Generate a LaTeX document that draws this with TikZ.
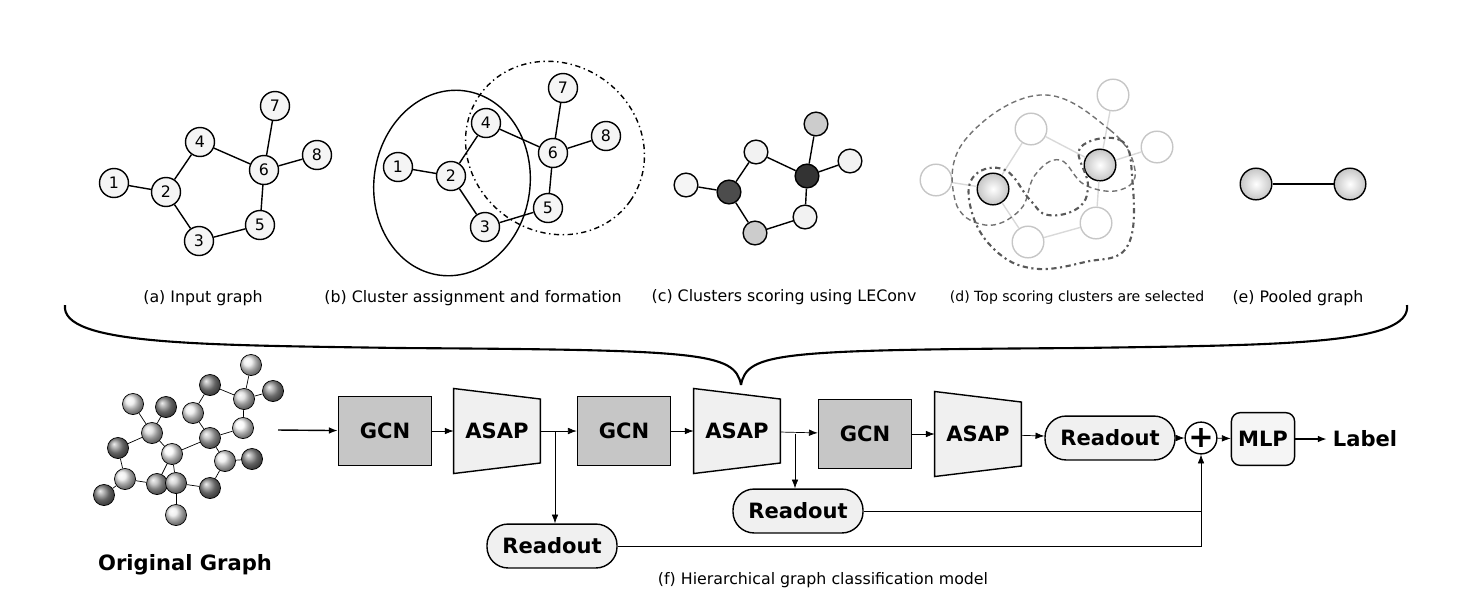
\documentclass[tikz,border=0pt]{standalone}
\usepackage{fontspec}
\setmainfont{DejaVu Sans}
\usetikzlibrary{arrows.meta,positioning,backgrounds}
\tikzset{
  vtx/.style={circle, draw, thick, minimum size=16.5pt, inner sep=0pt, font=\small, fill=gray!8},
  dot/.style={circle, draw, minimum size=12pt, inner sep=0pt, ball color=#1},
  sv/.style={circle, draw, thick, minimum size=13.5pt, inner sep=0pt, fill=#1},
  ghost/.style={circle, draw=gray!45, thick, minimum size=18pt, inner sep=0pt},
  pick/.style={circle, draw, thick, minimum size=18pt, inner sep=0pt, inner color=white, outer color=gray!45},
  blk/.style={draw, thick, fill=gray!45, minimum width=53pt, minimum height=39pt, font=\large\bfseries},
  asap/.style={minimum width=49pt, minimum height=48pt, inner sep=0pt, font=\large\bfseries},
  rdo/.style={draw, thick, rounded corners=12pt, fill=gray!12, minimum width=74pt, minimum height=25pt, font=\large\bfseries},
  caption/.style={font=\small},
  flow/.style={-{Latex[length=5pt]}},
}
\begin{document}
\begin{tikzpicture}[x=0.02cm, y=-0.02cm]
    \useasboundingbox (0,0) rectangle (1462,603);

    % (a) input graph
    \foreach \n/\x/\y in {1/114/183,2/166/192,3/199/241,4/200/142,5/260/225,6/264/170,7/275/106,8/317/155}
        \node[vtx] (a\n) at (\x,\y) {\n};
    \foreach \s/\t in {1/2,2/4,2/3,3/5,5/6,4/6,6/7,6/8}
        \draw[thick] (a\s) -- (a\t);
    \node[caption] (capa) at (203,298) {(a) Input graph};

    % (b) cluster assignment
    \draw[thick] (452,183) ellipse [x radius=78, y radius=93, rotate=-8];
    \draw[thick, dash dot] (555,148) ellipse [x radius=92, y radius=84, rotate=-35];
    \foreach \n/\x/\y in {1/398/167,2/451/176,3/485/227,4/486/123,5/548/208,6/553/153,7/563/88,8/606/136}
        \node[vtx] (b\n) at (\x,\y) {\n};
    \foreach \s/\t in {1/2,2/4,2/3,3/5,5/6,4/6,6/7,6/8}
        \draw[thick] (b\s) -- (b\t);
    \node[caption] (capb) at (473,298) {(b) Cluster assignment and formation};

    % (c) scoring
    \foreach \n/\x/\y/\c in {1/686/185/gray!8,2/729/192/black!70,3/756/152/gray!10,4/755/233/gray!40,5/807/176/black!80,6/816/124/gray!40,7/850/161/gray!10,8/805/217/gray!10}
        \node[sv=\c] (c\n) at (\x,\y) {};
    \foreach \s/\t in {1/2,2/3,2/4,4/8,8/5,3/5,5/6,5/7}
        \draw[thick] (c\s) -- (c\t);
    \node[caption] (capc) at (784,297) {(c) Clusters scoring using LEConv};

    % (d) top clusters
    \foreach \n/\x/\y in {1/1113/95,2/1031/129,3/1157/147,4/936/180,5/1028/242,6/1096/223}
        \node[ghost] (d\n) at (\x,\y) {};
    \node[pick] (dl) at (993,189) {};
    \node[pick] (dr) at (1100,165) {};
    \foreach \s/\t in {d2/dl,d2/dr,d1/dr,d3/dr,d4/dl,dl/d5,d5/d6,d6/dr}
        \draw[gray!30, thick] (\s) -- (\t);
    \draw[thick, densely dashed, gray!90!black] plot[smooth cycle, tension=0.7] coordinates
        {(1040,95) (1110,130) (1135,170) (1120,190) (1085,185) (1060,160) (1035,175) (1020,210) (985,225) (955,200) (965,140)};
    \draw[very thick, dash dot, gray!70!black] plot[smooth cycle, tension=0.7] coordinates
        {(1080,148) (1120,140) (1132,175) (1128,245) (1085,262) (1030,268) (990,245) (970,205) (975,175) (1005,170) (1030,200) (1048,215) (1078,208) (1088,185)};
    \node[font=\footnotesize] (capd) at (1077,298) {(d) Top scoring clusters are selected};

    % (e) pooled
    \node[pick] (e1) at (1256,184) {};
    \node[pick] (e2) at (1350,184) {};
    \draw[thick] (e1) -- (e2);
    \node[caption] (cape) at (1298,298) {(e) Pooled graph};

    % brace
    \coordinate (bl) at (65,305);
    \coordinate (br) at (1407,305);
    \coordinate (bt) at (741,385);
    \draw[very thick] (bl) .. controls (60,345) and (200,345) .. (400,348)
        .. controls (700,350) and (735,352) .. (bt);
    \draw[very thick] (br) .. controls (1412,345) and (1280,345) .. (1080,348)
        .. controls (780,350) and (747,352) .. (bt);

    % original graph
    \foreach \n/\x/\y/\c in {a/251/365/gray!15,b/210/385/gray!90,c/273/391/gray!80,d/244/399/gray!30,e/133/404/gray!15,f/166/407/gray!90,g/193/413/gray!15,h/243/428/gray!5,i/152/433/gray!30,j/210/438/gray!60,k/172/454/gray!5,l/118/448/gray!90,m/225/461/gray!15,n/252/459/gray!90,o/125/479/gray!15,p/157/484/gray!60,q/176/483/gray!40,r/210/488/gray!90,s/104/495/gray!90,t/176/515/gray!15}
        \node[dot=\c] (g\n) at (\x,\y) {};
    \foreach \s/\t in {a/d,b/d,d/c,d/h,b/g,g/j,e/i,f/i,i/l,i/k,k/j,j/h,j/m,m/n,m/r,l/o,o/s,o/p,k/p,k/q,q/r,q/t}
        \draw (g\s) -- (g\t);
    \node[font=\large\bfseries] (orig) at (185,565) {Original Graph};
    \coordinate (gout) at (278,430);

    % model
    \node[blk] (gcn1) at (385,431) {GCN};
    \node[asap] (asap1) at (497,431) {ASAP};
    \node[blk] (gcn2) at (624,431) {GCN};
    \node[asap] (asap2) at (737,431) {ASAP};
    \node[blk] (gcn3) at (865,434) {GCN};
    \node[asap] (asap3) at (978,434) {ASAP};
    \begin{scope}[on background layer]
      \foreach \n in {asap1,asap2,asap3}
        \filldraw[thick, fill=gray!12] (\n.north west) -- ([yshift=-6pt]\n.north east)
          -- ([yshift=6pt]\n.south east) -- (\n.south west) -- cycle;
    \end{scope}
    \node[rdo] (rd1) at (1110,438) {Readout};
    \node[circle, draw, thick, inner sep=0pt, minimum size=17pt, font=\LARGE\bfseries] (sum) at (1201,438) {+};
    \node[draw, thick, rounded corners=5pt, fill=gray!8, minimum width=36pt, minimum height=30pt, font=\large\bfseries] (mlp) at (1263,439) {MLP};
    \node[font=\large\bfseries] (lbl) at (1365,439) {Label};
    \node[rdo] (rd2) at (798,511) {Readout};
    \node[rdo] (rd3) at (552,546) {Readout};

    \draw[flow, thick] (gout) -- (gcn1);
    \draw[flow] (gcn1) -- (asap1);
    \draw[flow] (asap1) -- (gcn2);
    \draw[flow] (gcn2) -- (asap2);
    \draw[flow] (asap2) -- (gcn3);
    \draw[flow] (gcn3) -- (asap3);
    \draw[flow] (asap3) -- (rd1);
    \draw[flow] (rd1) -- (sum);
    \draw[flow] (sum) -- (mlp);
    \draw[flow, thick] (mlp) -- (lbl);
    \draw[flow] (555,431) -- (rd3.north -| 555,0);
    \draw[flow] (795,434) -- (rd2.north -| 795,0);
    \draw (rd2.east) -- (rd2.east -| sum);
    \draw[flow] (rd3.east) -- (rd3.east -| sum) -- (sum.south);
    \node[caption] (capf) at (823,580) {(f) Hierarchical graph classification model};
\end{tikzpicture}
\end{document}
